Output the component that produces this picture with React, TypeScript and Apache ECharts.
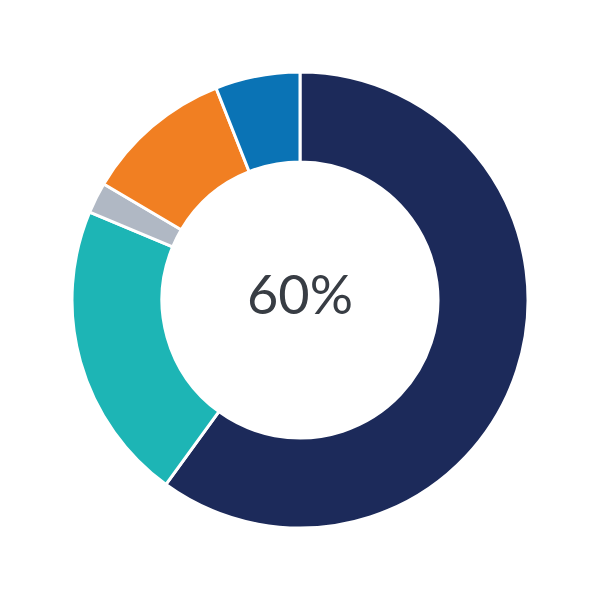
import React, { useEffect, useRef } from "react";
import * as echarts from "echarts";

const names = ["Navy", "Teal", "Gray", "Orange", "Blue"];
const values = [60, 21.3, 2.2, 10.5, 6];
const colors = ["#1c2a5a", "#1db5b5", "#b0b8c4", "#f17f22", "#0a73b5"];
const centerLabel = "60%";

export default function App() {
  const ref = useRef<HTMLDivElement>(null);
  useEffect(() => {
    const chart = echarts.init(ref.current!, null, { renderer: "svg" });
    chart.setOption({
      animation: false,
      title: {
        text: centerLabel,
        left: "center",
        top: 261,
        textStyle: {
          fontFamily: "Lato",
          fontWeight: 400,
          fontSize: 54,
          color: "#383d44",
        },
      },
      series: [
        {
          type: "pie",
          center: [300, 300],
          radius: [138, 228],
          startAngle: 90,
          clockwise: true,
          label: { show: false },
          labelLine: { show: false },
          itemStyle: { borderColor: "#ffffff", borderWidth: 3 },
          data: names.map((n, i) => ({
            name: n,
            value: values[i],
            itemStyle: { color: colors[i] },
          })),
        },
      ],
    });
    return () => chart.dispose();
  }, []);
  return (
    <div
      ref={ref}
      style={{ position: "fixed", left: 0, top: 0, width: 600, height: 600 }}
    />
  );
}
